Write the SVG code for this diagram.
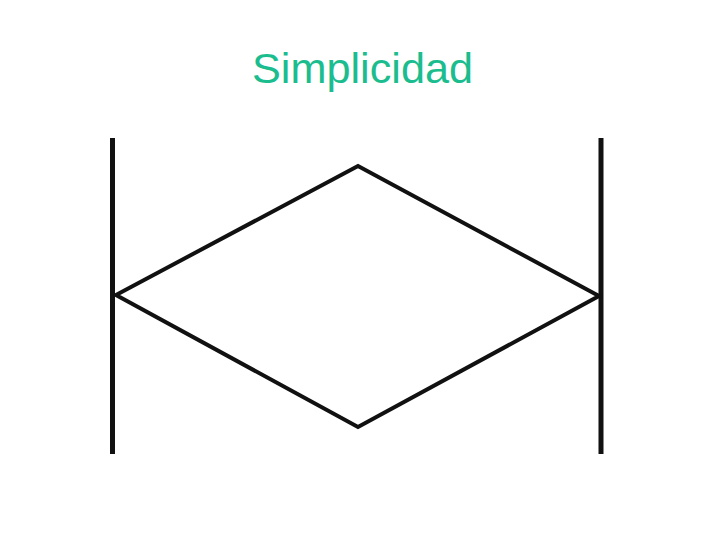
<svg xmlns="http://www.w3.org/2000/svg" width="728" height="546" viewBox="0 0 728 546">
<style>
.title{font-family:"Liberation Sans",Arial,sans-serif;font-size:42px;fill:#1bbd8e}
.bar{stroke:#111;stroke-width:5;fill:none}
.shape{stroke:#111;stroke-width:4;fill:none;stroke-linejoin:miter}
</style>
<rect width="728" height="546" fill="#fff"/>
<text class="title" x="252" y="83" textLength="221" lengthAdjust="spacingAndGlyphs">Simplicidad</text>
<g id="left-bar"><line class="bar" x1="112.5" y1="138" x2="112.5" y2="454"/></g>
<g id="right-bar"><line class="bar" x1="601" y1="138" x2="601" y2="454"/></g>
<g id="diamond"><polygon class="shape" points="116,295 358,166 599,296 358,427"/></g>
</svg>
